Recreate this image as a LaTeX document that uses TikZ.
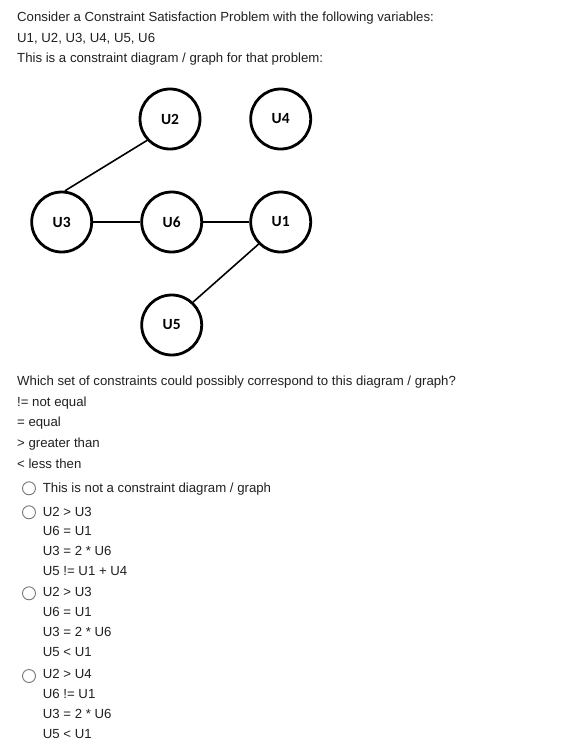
\documentclass[tikz,border=0pt]{standalone}
\usepackage{fontspec}
\setmainfont{Liberation Sans}
\newfontfamily\nodefont{Carlito}
\definecolor{txt}{HTML}{202124}
\definecolor{radio}{HTML}{767676}
\begin{document}
\begin{tikzpicture}[x=1pt,y=-1pt,
  txtline/.style={anchor=base west,inner sep=0pt,text=txt,font=\fontsize{13.2}{16}\selectfont},
  var/.style={circle,draw=black,line width=2.8pt,minimum size=60pt,inner sep=0pt,font=\nodefont\bfseries\fontsize{15.5}{18}\selectfont},
  radiobtn/.style={circle,draw=radio,line width=0.9pt,minimum size=13pt,inner sep=0pt},
  thinedge/.style={line width=1.6pt},
  thickedge/.style={line width=2.3pt}]
\useasboundingbox[fill=white] (0,0) rectangle (571,747);
% header text
\node[txtline] (h1) at (17,21) {Consider a Constraint Satisfaction Problem with the following variables:};
\node[txtline] (h2) at (17,42) {U1, U2, U3, U4, U5, U6};
\node[txtline] (h3) at (17,62) {This is a constraint diagram / graph for that problem:};
% graph
\node[var] (U2) at (170,119) {U2};
\node[var] (U4) at (280.7,119) {U4};
\node[var] (U3) at (61.7,222) {U3};
\node[var] (U6) at (171.7,222) {U6};
\node[var] (U1) at (280.7,222) {U1};
\node[var] (U5) at (171.7,325) {U5};
\draw[thinedge] (U3.84) -- (U2.223);
\draw[thickedge] (U3) -- (U6);
\draw[thickedge] (U6) -- (U1);
\draw[thinedge] (U1.225) -- (U5.47);
% question text
\node[txtline] (q1) at (17,385.7) {Which set of constraints could possibly correspond to this diagram / graph?};
\node[txtline] (q2) at (17,406) {!= not equal};
\node[txtline] (q3) at (17,426.7) {= equal};
\node[txtline] (q4) at (17,447.3) {> greater than};
\node[txtline] (q5) at (17,468.5) {< less then};
% options
\node[radiobtn] (r1) at (29,488.3) {};
\node[txtline] (o1) at (42.7,492.7) {This is not a constraint diagram / graph};
\node[radiobtn] (r2) at (29,512.3) {};
\node[txtline] (o2a) at (42.7,516) {U2 > U3};
\node[txtline] (o2b) at (42.7,535.8) {U6 = U1};
\node[txtline] (o2c) at (42.7,555.6) {U3 = 2 * U6};
\node[txtline] (o2d) at (42.7,575.4) {U5 != U1 + U4};
\node[radiobtn] (r3) at (29,593.3) {};
\node[txtline] (o3a) at (42.7,596.7) {U2 > U3};
\node[txtline] (o3b) at (42.7,616.7) {U6 = U1};
\node[txtline] (o3c) at (42.7,636.7) {U3 = 2 * U6};
\node[txtline] (o3d) at (42.7,656.7) {U5 < U1};
\node[radiobtn] (r4) at (29,676) {};
\node[txtline] (o4a) at (42.7,678.3) {U2 > U4};
\node[txtline] (o4b) at (42.7,698.3) {U6 != U1};
\node[txtline] (o4c) at (42.7,718.3) {U3 = 2 * U6};
\node[txtline] (o4d) at (42.7,738.3) {U5 < U1};
\end{tikzpicture}
\end{document}
